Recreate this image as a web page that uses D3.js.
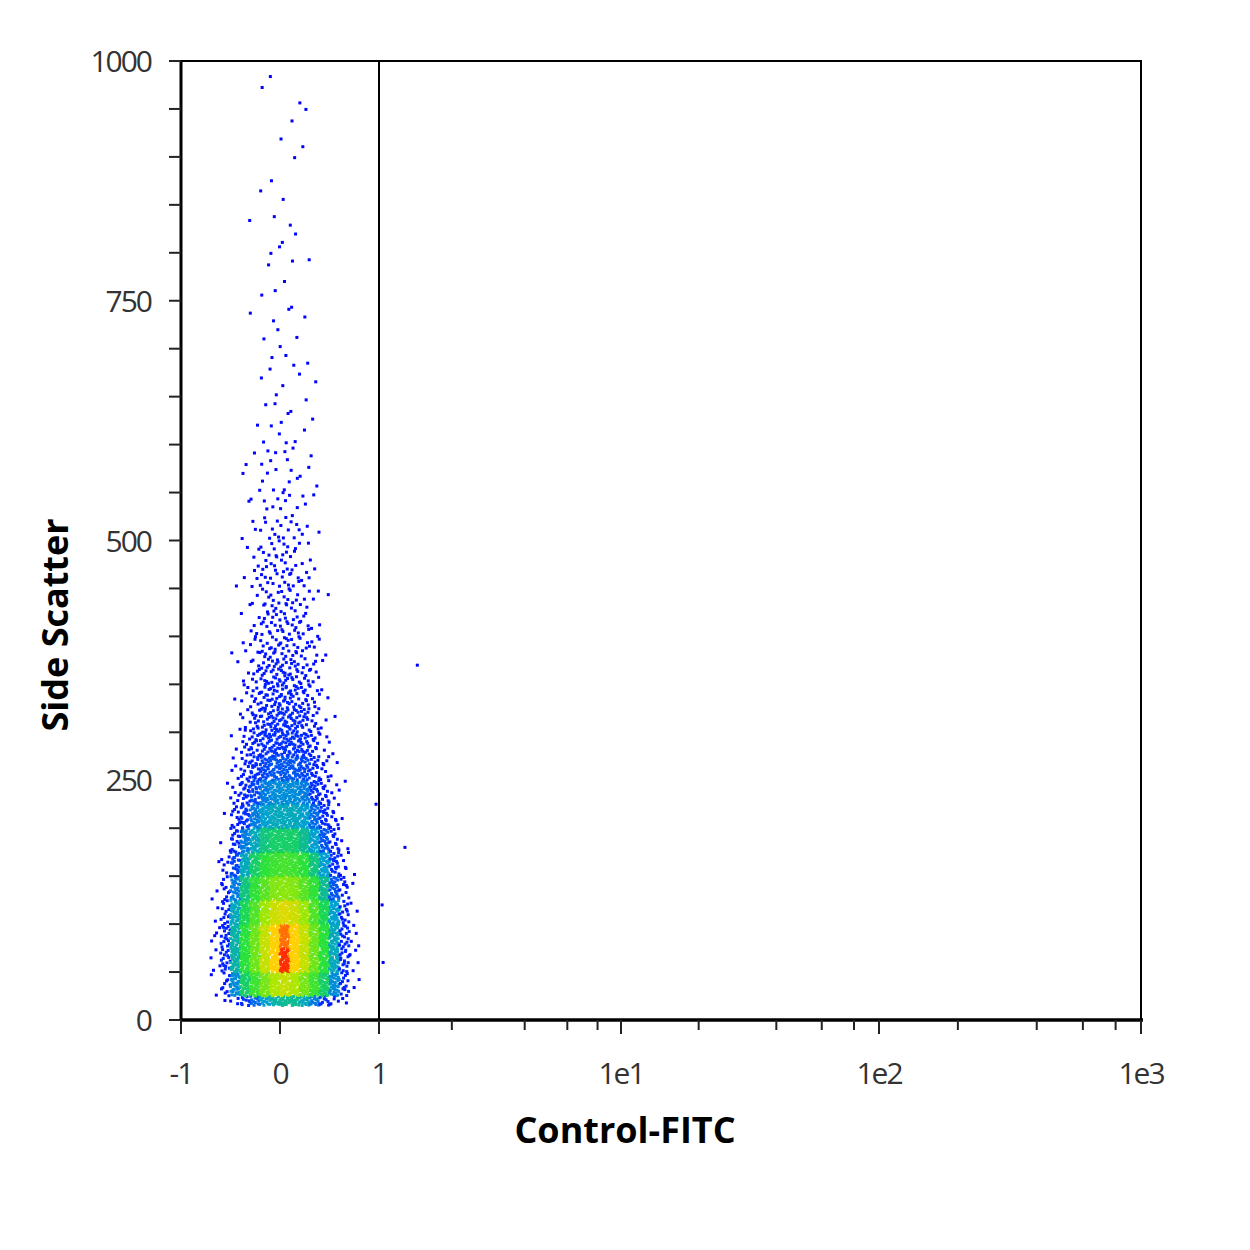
<!DOCTYPE html><html><head><meta charset="utf-8">
<script src="https://cdn.jsdelivr.net/npm/d3@7"></script>
<style>body{margin:0;background:#fff}</style></head><body><svg id="c" width="1250" height="1250"></svg>
<script>
// Density grid: x bins of 0.1 from -0.7 to 0.9, y bins of 25 from 0 to 1000 (event counts)
const xBinStart = -0.7, xBinWidth = 0.1, yBinWidth = 25;
const densityRows = [
[0,2,8,16,22,28,32,34,34,30,24,16,8,4,1,0],
[2,8,26,38,48,60,72,78,72,60,48,38,26,10,2,0],
[3,12,32,44,58,78,95,112,95,78,58,44,30,12,3,0],
[3,12,32,44,58,78,95,105,95,78,58,44,30,12,3,0],
[2,10,30,40,52,68,80,85,80,68,52,40,28,10,2,0],
[2,7,24,36,45,54,62,64,62,54,45,34,20,7,1,0],
[1,4,18,30,38,44,48,50,48,44,36,28,14,4,1,0],
[0,2,12,24,30,36,38,38,38,34,28,20,10,2,0,0],
[0,1,8,16,24,28,30,30,30,28,22,14,6,1,0,0],
[0,1,5,12,18,24,26,26,26,24,16,9,3,1,0,0],
[0,0,3,8,14,18,20,20,20,18,11,6,2,0,0,0],
[0,0,2,6,11,14,16,16,16,13,8,3,1,0,0,0],
[0,0,1,4,8,11,13,14,13,10,6,2,1,0,0,0],
[0,0,1,3,6,9,10,11,10,8,4,2,0,0,0,0],
[0,0,1,2,5,8,9,9,8,6,4,1,0,0,0,0],
[0,0,1,2,4,6,7,7,6,5,3,1,0,0,0,0],
[0,0,0,1,3,5,5,6,5,4,2,1,0,0,0,0],
[0,0,0,1,2,4,5,5,4,3,2,1,0,0,0,0],
[0,0,1,1,3,4,4,4,4,3,1,0,0,0,0,0],
[0,0,0,1,2,3,4,4,3,2,1,0,0,0,0,0],
[0,0,0,1,2,3,3,3,3,2,1,0,0,0,0,0],
[0,0,0,1,1,2,2,3,2,2,1,0,0,0,0,0],
[0,0,0,1,1,2,2,2,2,1,1,0,0,0,0,0],
[0,0,0,1,1,2,2,2,1,1,1,0,0,0,0,0],
[0,0,0,0,1,1,2,2,1,1,0,0,0,0,0,0],
[0,0,0,0,0,1,1,1,1,1,1,0,0,0,0,0],
[0,0,0,0,0,1,1,1,1,0,1,0,0,0,0,0],
[0,0,0,0,0,1,1,1,1,1,0,0,0,0,0,0],
[0,0,0,0,0,1,1,1,1,0,0,0,0,0,0,0],
[0,0,0,0,1,0,1,1,1,1,0,0,0,0,0,0],
[0,0,0,0,0,1,1,1,0,0,0,0,0,0,0,0],
[0,0,0,0,0,1,1,0,1,1,0,0,0,0,0,0],
[0,0,0,0,0,0,1,1,1,0,0,0,0,0,0,0],
[0,0,0,1,0,0,1,0,1,0,0,0,0,0,0,0],
[0,0,0,0,0,1,0,1,0,0,0,0,0,0,0,0],
[0,0,0,0,0,0,1,0,1,0,0,0,0,0,0,0],
[0,0,0,0,0,0,0,1,0,1,0,0,0,0,0,0],
[0,0,0,0,0,0,0,0,1,1,0,0,0,0,0,0],
[0,0,0,0,0,1,0,0,0,1,0,0,0,0,0,0],
[0,0,0,0,0,0,1,0,0,0,0,0,0,0,0,0]
];
const outlierX = [1.44, 1.28, 1.04, 0.97, 1.03];
const outlierY = [370, 180, 60, 225, 120];
const yTicks = [0,250,500,750,1000];
const xMajor = [-1,0,1,10,100,1000];
const xLabels = ["-1","0","1","1e1","1e2","1e3"];
const xMinor = [2,4,6,8,20,40,60,80,200,400,600,800];

const svg = d3.select("#c");
const L=181,R=1141,T=61,B=1020;
const lin = d3.scaleLinear().domain([-1,1]).range([L,379]);
const lg = d3.scaleLog().domain([1,10,100,1000]).range([379,621,879,R]);
const x = v => v<=1 ? lin(v) : lg(v);
const y = d3.scaleLinear().domain([0,1000]).range([B,T]);
const color = d3.scaleLinear().domain([1,16,28,42,70,95,115])
  .range(['#0000ff','#0030ff','#00a0d0','#20e040','#a8e800','#ffd000','#ff1000']).clamp(true);

function halton(i,b){let f=1,r=0;while(i>0){f/=b;r+=f*(i%b);i=Math.floor(i/b);}return r;}
const g = svg.append("g");
densityRows.forEach((row,ri)=>{
  row.forEach((n,ci)=>{
    if(!n) return;
    const x0=xBinStart+ci*xBinWidth, y0=ri*yBinWidth;
    const m=Math.min(n<3?n:Math.round(n*1.4),48);
    const c=color(n);
    for(let k=1;k<=m;k++){
      const off=(ri*7+ci*13);
      const yy=y0+halton(k+off,3)*yBinWidth;
      if(ri===0 && yy<15) continue;
      g.append("rect").attr("x",x(x0+halton(k+off,2)*xBinWidth)-1.5).attr("y",y(yy)-1.5).attr("width",3).attr("height",3).attr("fill",c);
    }
  });
});
outlierX.forEach((v,i)=>g.append("rect").attr("x",x(v)-1.5).attr("y",y(outlierY[i])-1.5).attr("width",3).attr("height",3).attr("fill","#0000ff"));

// frame
svg.append("rect").attr("x",L).attr("y",T).attr("width",R-L).attr("height",B-T).attr("fill","none").attr("stroke","#000").attr("stroke-width",2);
svg.append("line").attr("x1",L).attr("x2",R+2).attr("y1",B).attr("y2",B).attr("stroke","#000").attr("stroke-width",3.5);
svg.append("line").attr("x1",L).attr("x2",L).attr("y1",T).attr("y2",B).attr("stroke","#000").attr("stroke-width",3);
svg.append("line").attr("x1",x(1)).attr("x2",x(1)).attr("y1",T).attr("y2",B).attr("stroke","#000").attr("stroke-width",2);

d3.range(0,1001,50).forEach(v=>{
  svg.append("line").attr("x1",L-12).attr("x2",L).attr("y1",y(v)).attr("y2",y(v)).attr("stroke","#222").attr("stroke-width",2);
});
yTicks.forEach(v=>svg.append("text").attr("x",L-30).attr("y",y(v)+11).attr("text-anchor","end")
  .attr("font-family","Open Sans, sans-serif").attr("font-size",30).attr("fill","#333").attr("letter-spacing",-2).text(v));
xMajor.forEach((v,i)=>{
  svg.append("line").attr("x1",x(v)).attr("x2",x(v)).attr("y1",B).attr("y2",B+14).attr("stroke","#222").attr("stroke-width",2);
  svg.append("text").attr("x",x(v)).attr("y",B+64).attr("text-anchor","middle")
    .attr("font-family","Open Sans, sans-serif").attr("font-size",30).attr("fill","#333").attr("letter-spacing",-2).text(xLabels[i]);
});
xMinor.forEach(v=>svg.append("line").attr("x1",x(v)).attr("x2",x(v)).attr("y1",B).attr("y2",B+10).attr("stroke","#222").attr("stroke-width",2));

svg.append("text").attr("x",625).attr("y",1143).attr("text-anchor","middle").attr("font-family","Open Sans, sans-serif")
  .attr("font-weight","bold").attr("font-size",36).text("Control-FITC");
svg.append("text").attr("transform","translate(68,625) rotate(-90)").attr("text-anchor","middle").attr("font-family","Open Sans, sans-serif")
  .attr("font-weight","bold").attr("font-size",36).text("Side Scatter");
</script></body></html>
